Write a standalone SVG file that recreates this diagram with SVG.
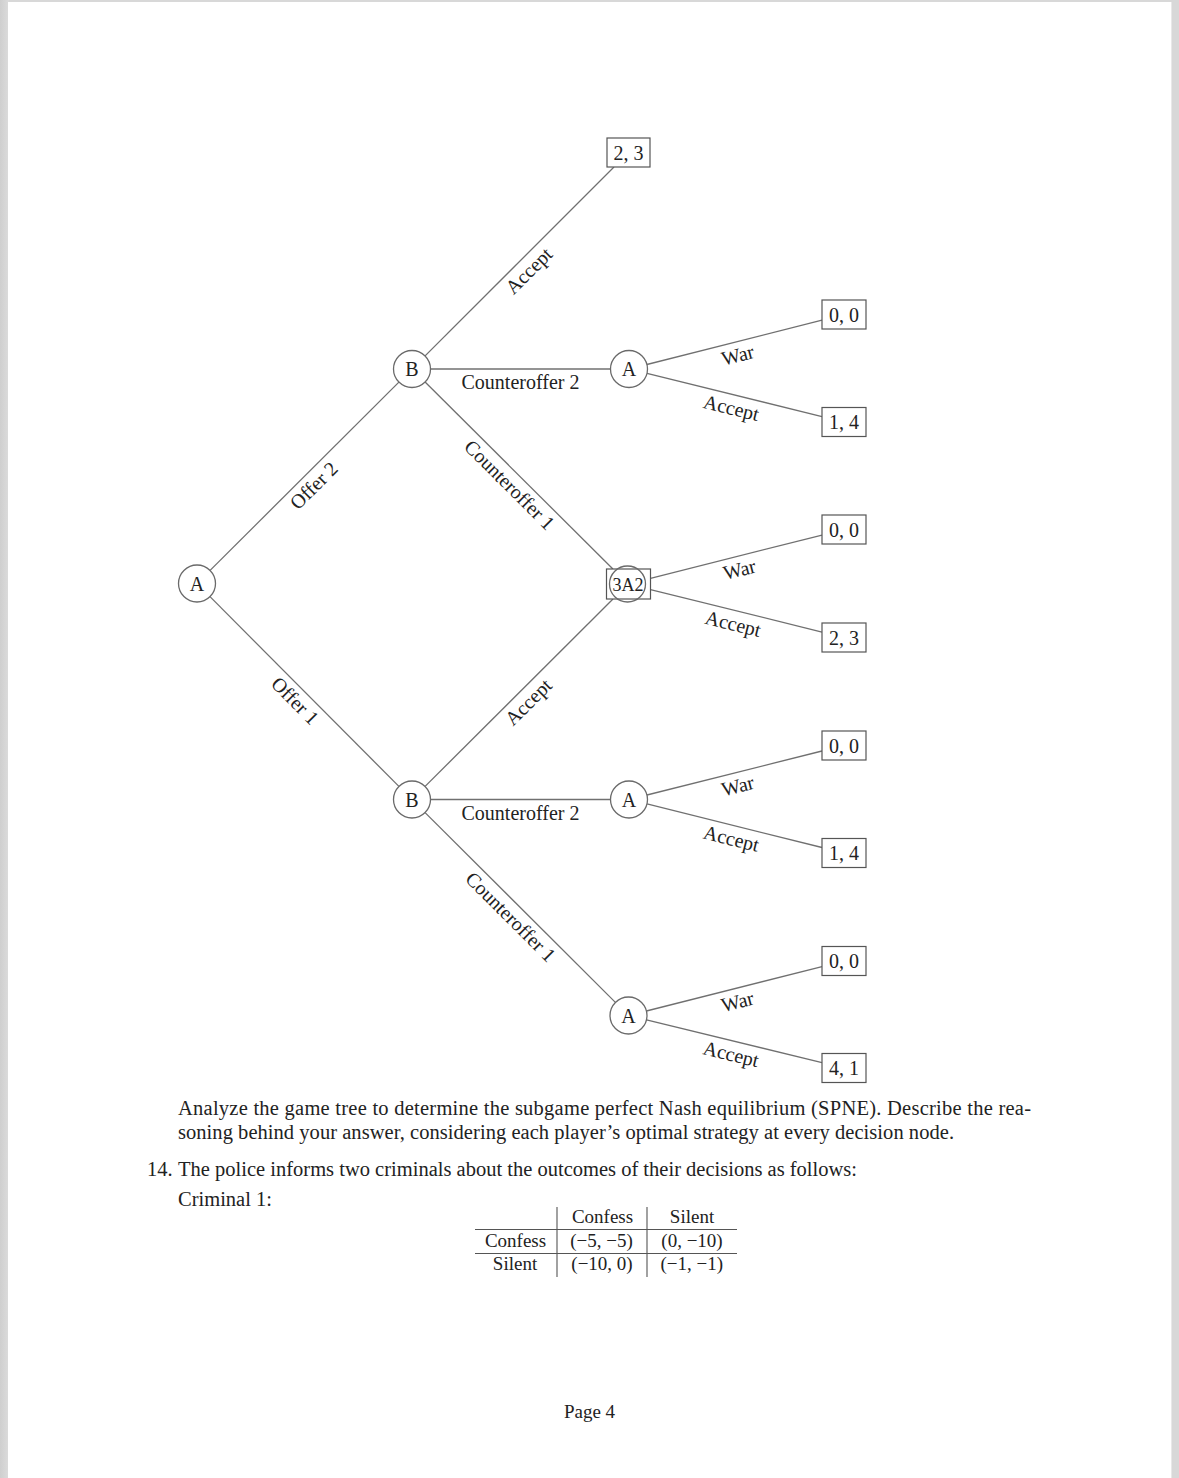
<svg xmlns="http://www.w3.org/2000/svg" width="1179" height="1478" viewBox="0 0 1179 1478">
<defs>
<linearGradient id="bgL" x1="0" y1="0" x2="1" y2="0">
<stop offset="0" stop-color="#cfcfcf"/><stop offset="1" stop-color="#dcdcdc"/>
</linearGradient>
</defs>
<style>
text{font-family:"Liberation Serif","DejaVu Serif",serif;fill:#222;}
.lbl{font-size:20px;text-anchor:middle;}
.nt{font-size:20px;text-anchor:middle;}
.pt{font-size:20px;text-anchor:middle;}
.edge{stroke:#707070;stroke-width:1.3;fill:none;}
.circ{fill:#fff;stroke:#6a6a6a;stroke-width:1.3;}
.box{fill:#fff;stroke:#555;stroke-width:1.2;}
.para{font-size:20.5px;}
.tb{font-size:19px;text-anchor:middle;}
.rule{stroke:#555;stroke-width:1.1;}
</style>
<rect x="0" y="0" width="1179" height="1478" fill="#d8d8d8"/>
<rect x="0" y="0" width="9" height="1478" fill="url(#bgL)"/>
<rect x="8" y="2" width="1163" height="1480" fill="#ffffff"/>
<line x1="1171.5" y1="2" x2="1171.5" y2="1478" stroke="#e8e8e8" stroke-width="1"/>

<g id="connectors">
<line class="edge" x1="210.1" y1="570.4" x2="398.9" y2="382.1"/>
<line class="edge" x1="210.0" y1="596.6" x2="398.9" y2="786.4"/>
<line class="edge" x1="425.1" y1="355.9" x2="614" y2="167"/>
<line class="edge" x1="430.5" y1="369" x2="610.5" y2="369"/>
<line class="edge" x1="425.1" y1="382.0" x2="612.9" y2="569"/>
<line class="edge" x1="425.1" y1="786.4" x2="613" y2="599"/>
<line class="edge" x1="430.5" y1="799.5" x2="610.5" y2="799.5"/>
<line class="edge" x1="425.1" y1="812.6" x2="615.4" y2="1002.4"/>
<line class="edge" x1="646.9" y1="364.5" x2="822" y2="320.1"/>
<line class="edge" x1="647" y1="373.4" x2="822" y2="416.6"/>
<line class="edge" x1="650.5" y1="578.3" x2="822" y2="535.05"/>
<line class="edge" x1="650.5" y1="589.6" x2="822" y2="632.05"/>
<line class="edge" x1="646.95" y1="795.0" x2="822" y2="751.0"/>
<line class="edge" x1="647" y1="803.9" x2="822" y2="847.5"/>
<line class="edge" x1="646.4" y1="1011.0" x2="822" y2="966.6"/>
<line class="edge" x1="646.5" y1="1019.9" x2="822" y2="1062.6"/>

<text class="lbl" transform="translate(304.5,476.2) rotate(-44.9)" y="20">Offer 2</text>
<text class="lbl" transform="translate(304.5,691.5) rotate(45.1)" y="20">Offer 1</text>
<text class="lbl" transform="translate(519.5,261.4) rotate(-45)" y="20">Accept</text>
<text class="lbl" transform="translate(520.5,369)" y="20">Counteroffer 2</text>
<text class="lbl" transform="translate(519,475.5) rotate(44.9)" y="20">Counteroffer 1</text>
<text class="lbl" transform="translate(519,692.7) rotate(-44.9)" y="20">Accept</text>
<text class="lbl" transform="translate(520.5,799.5)" y="20">Counteroffer 2</text>
<text class="lbl" transform="translate(520,907.5) rotate(44.95)" y="20">Counteroffer 1</text>
<text class="lbl" transform="translate(734.5,342.3) rotate(-14.22)" y="20">War</text>
<text class="lbl" transform="translate(734.5,395) rotate(13.85)" y="20">Accept</text>
<text class="lbl" transform="translate(736.2,556.7) rotate(-14.16)" y="20">War</text>
<text class="lbl" transform="translate(736.2,610.8) rotate(13.91)" y="20">Accept</text>
<text class="lbl" transform="translate(734.5,773) rotate(-14.1)" y="20">War</text>
<text class="lbl" transform="translate(734.5,825.7) rotate(13.97)" y="20">Accept</text>
<text class="lbl" transform="translate(734.2,988.8) rotate(-14.19)" y="20">War</text>
<text class="lbl" transform="translate(734.2,1041.2) rotate(13.69)" y="20">Accept</text>
</g>

<g id="node-root"><circle class="circ" cx="197" cy="583.5" r="18.5"/><text class="nt" x="197" y="590.5">A</text></g>
<g id="node-B1"><circle class="circ" cx="412" cy="369" r="18.5"/><text class="nt" x="412" y="376">B</text></g>
<g id="node-B2"><circle class="circ" cx="412" cy="799.5" r="18.5"/><text class="nt" x="412" y="806.5">B</text></g>
<g id="node-A1"><circle class="circ" cx="629" cy="369" r="18.5"/><text class="nt" x="629" y="376">A</text></g>
<g id="node-3A2"><rect class="box" x="606.5" y="569" width="44" height="30"/><circle class="circ" cx="627.5" cy="584" r="18" style="fill:none"/><text class="nt" x="628" y="590.5" style="font-size:18px">3A2</text></g>
<g id="node-A2"><circle class="circ" cx="629" cy="799.5" r="18.5"/><text class="nt" x="629" y="806.5">A</text></g>
<g id="node-A3"><circle class="circ" cx="628.5" cy="1015.5" r="18.5"/><text class="nt" x="628.5" y="1022.5">A</text></g>

<g id="pay-top"><rect class="box" x="607" y="138" width="43" height="29"/><text class="pt" x="628.5" y="159.5">2, 3</text></g>
<g id="pay-1"><rect class="box" x="822" y="300" width="44" height="29"/><text class="pt" x="844" y="321.5">0, 0</text></g>
<g id="pay-2"><rect class="box" x="822" y="407.5" width="44" height="29"/><text class="pt" x="844" y="429">1, 4</text></g>
<g id="pay-3"><rect class="box" x="822" y="515" width="44" height="29"/><text class="pt" x="844" y="536.5">0, 0</text></g>
<g id="pay-4"><rect class="box" x="822" y="623" width="44" height="29"/><text class="pt" x="844" y="644.5">2, 3</text></g>
<g id="pay-5"><rect class="box" x="822" y="731" width="44" height="29"/><text class="pt" x="844" y="752.5">0, 0</text></g>
<g id="pay-6"><rect class="box" x="822" y="838.5" width="44" height="29"/><text class="pt" x="844" y="860">1, 4</text></g>
<g id="pay-7"><rect class="box" x="822" y="946.5" width="44" height="29"/><text class="pt" x="844" y="968">0, 0</text></g>
<g id="pay-8"><rect class="box" x="822" y="1053.5" width="44" height="29"/><text class="pt" x="844" y="1075">4, 1</text></g>

<g id="text-body">
<text class="para" x="178" y="1115" textLength="853" lengthAdjust="spacing">Analyze the game tree to determine the subgame perfect Nash equilibrium (SPNE). Describe the rea-</text>
<text class="para" x="178" y="1139" textLength="776" lengthAdjust="spacing">soning behind your answer, considering each player’s optimal strategy at every decision node.</text>
<text class="para" x="147" y="1176">14.</text>
<text class="para" x="178" y="1176" textLength="679" lengthAdjust="spacing">The police informs two criminals about the outcomes of their decisions as follows:</text>
<text class="para" x="178" y="1206" textLength="94" lengthAdjust="spacing">Criminal 1:</text>
</g>

<g id="table">
<line class="rule" x1="557" y1="1207" x2="557" y2="1277"/>
<line class="rule" x1="647" y1="1207" x2="647" y2="1277"/>
<line class="rule" x1="475" y1="1229.5" x2="737" y2="1229.5"/>
<line class="rule" x1="475" y1="1253.5" x2="737" y2="1253.5"/>
<text class="tb" x="602.5" y="1223">Confess</text>
<text class="tb" x="692" y="1223">Silent</text>
<text class="tb" x="515.5" y="1246.5">Confess</text>
<text class="tb" x="601.5" y="1246.5">(−5, −5)</text>
<text class="tb" x="692" y="1246.5">(0, −10)</text>
<text class="tb" x="515" y="1270">Silent</text>
<text class="tb" x="602" y="1270">(−10, 0)</text>
<text class="tb" x="691.7" y="1270">(−1, −1)</text>
</g>

<text class="tb" x="589.5" y="1418">Page 4</text>
</svg>
